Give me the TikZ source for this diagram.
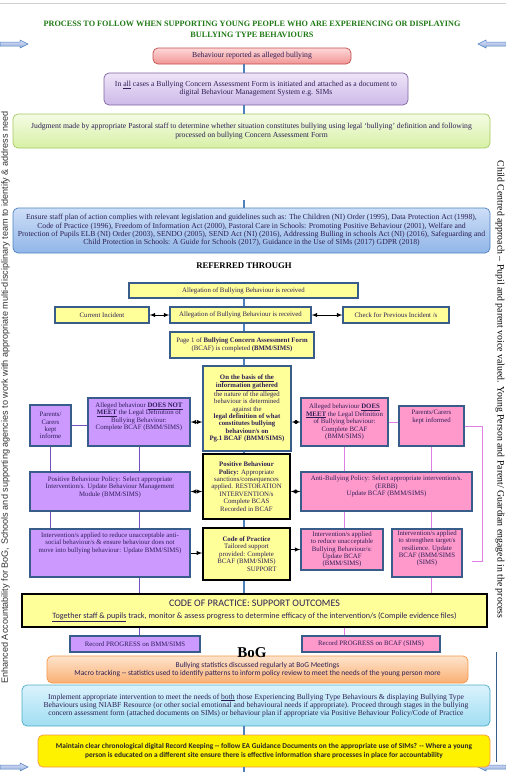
\documentclass[tikz,border=0pt]{standalone}
\usepackage{fontspec}
\setmainfont{Liberation Serif}
\newfontfamily\calib{Carlito}
\newfontfamily\arialish{Liberation Sans}
\usepackage{tikz}
\usetikzlibrary{arrows, positioning, shapes}

\definecolor{ink}{RGB}{45,30,85}
\definecolor{navy}{RGB}{56,93,138}
\definecolor{ylw}{RGB}{255,255,153}
\definecolor{lilac}{RGB}{204,153,255}
\definecolor{rose}{RGB}{255,153,204}
\definecolor{linkblue}{RGB}{79,129,189}
\definecolor{linkpurple}{RGB}{120,80,190}
\definecolor{linkpink}{RGB}{225,125,230}
\definecolor{titlegreen}{RGB}{30,120,20}

\begin{document}
\begin{tikzpicture}[x=1pt, y=-1pt,
    every node/.style={align=center, text=ink, inner sep=1pt},
    small/.style={font=\fontsize{6.8}{7.4}\selectfont},
    big/.style={font=\fontsize{7.7}{8.3}\selectfont},
    ybox/.style={small, draw=navy, line width=1.3pt, fill=ylw},
    kbox/.style={small, draw=black, line width=1.6pt, fill=ylw},
    pbox/.style={small, draw=navy, line width=1.3pt, fill=lilac},
    rbox/.style={small, draw=navy, line width=1.3pt, fill=rose},
    soft/.style={big, rounded corners=5pt, line width=0.7pt},
    vlink/.style={draw=linkblue, line width=1.2pt},
    plink/.style={draw=linkpurple, line width=0.6pt},
    klink/.style={draw=linkpink, line width=0.6pt},
    dlink/.style={latex-latex, black, line width=0.9pt},
    tlink/.style={-latex, black, line width=0.9pt},
    blockarrow/.style={draw=linkblue, line width=0.5pt, top color=blue!12, bottom color=linkblue!65},
]
\useasboundingbox (0,0) rectangle (506,772);
\coordinate (spine) at (244,0);

% header
\draw[gray!35, line width=0.6pt] (0,3) -- (506,3);
\node[font=\fontsize{8.2}{10.5}\selectfont\bfseries, text=titlegreen] (title) at (252,29.5)
    {PROCESS TO FOLLOW WHEN SUPPORTING YOUNG PEOPLE WHO ARE EXPERIENCING OR DISPLAYING\\
     BULLYING TYPE BEHAVIOURS};
\foreach \x/\y/\d in {0/44/1, 506/44/-1, 0/767/1, 506/767/-1}
  \path[blockarrow] (\x,\y-2) -- ++(20*\d,0) -- ++(0,-2) -- ++(8*\d,4) -- ++(-8*\d,4)
    -- ++(0,-2) -- ++(-20*\d,0) -- cycle;

% side texts
\node[rotate=90, font=\arialish\fontsize{9.1}{9.1}\selectfont, text=black!80] (account) at (5.5,397.5)
    {Enhanced Accountability for BoG, Schools and supporting agencies to work with appropriate multi-disciplinary team to identify \& address need};
\node[rotate=-90, font=\fontsize{9.8}{9.8}\selectfont, text=black] (childcentred) at (500,389.5)
    {Child Centred approach -- Pupil and parent voice valued. Young Person and Parent/ Guardian engaged in the process};
\draw[navy, line width=0.8pt] (496,652) -- (496,762);

% top of the process
\node[soft, draw={rgb,255:red,192;green,80;blue,77}, top color={rgb,255:red,255;green,215;blue,215},
    bottom color={rgb,255:red,240;green,150;blue,150}, minimum width=198, minimum height=16] (report) at (252,56)
    {Behaviour reported as alleged bullying};
\node[soft, draw={rgb,255:red,128;green,100;blue,162}, top color={rgb,255:red,238;green,228;blue,248},
    bottom color={rgb,255:red,205;green,185;blue,232}, minimum width=304, minimum height=32] (cases) at (256,89)
    {In \underline{all} cases a Bullying Concern Assessment Form is initiated and attached as a document to\\
     digital Behaviour Management System e.g. SIMs};
\node[soft, draw={rgb,255:red,165;green,200;blue,95}, top color={rgb,255:red,244;green,252;blue,228},
    bottom color={rgb,255:red,215;green,240;blue,165}, minimum width=477, minimum height=34] (judge) at (251.5,131)
    {Judgment made by appropriate Pastoral staff to determine whether situation constitutes bullying using legal  `bullying' definition and following\\
     processed on bullying Concern Assessment Form};
\node[soft, draw=linkblue, top color={rgb,255:red,205;green,222;blue,247},
    bottom color={rgb,255:red,145;green,182;blue,232}, minimum width=477, minimum height=45] (ensure) at (251.5,230.5)
    {Ensure  staff  plan of action complies with relevant legislation and guidelines such as: The Children (NI) Order (1995), Data Protection Act (1998),\\
     Code of Practice (1996), Freedom of Information Act (2000), Pastoral Care in Schools: Promoting Positive Behaviour (2001), Welfare and\\
     Protection of Pupils ELB (NI) Order (2003), SENDO (2005), SEND Act (NI) (2016), Addressing Bulling in schools Act (NI) (2016), Safeguarding and\\
     Child Protection in Schools: A Guide for Schools (2017), Guidance in the Use of SIMs (2017) GDPR (2018)};
\node[font=\fontsize{8.7}{9}\selectfont\bfseries, text=black] (refer) at (244,266) {REFERRED THROUGH};

% referral
\node[ybox, minimum width=229, minimum height=15] (allege) at (243.5,290.5) {Allegation of Bullying Behaviour is received};
\node[ybox, minimum width=94, minimum height=16] (current) at (102,315) {Current Incident};
\node[ybox, minimum width=141, minimum height=16] (alleged) at (240.5,315) {Allegation of Bullying Behaviour is received};
\node[ybox, minimum width=106, minimum height=16] (previous) at (396,315) {Check for Previous Incident /s};
\node[ybox, minimum width=144, minimum height=26] (pageone) at (242,345)
    {Page 1 of \textbf{Bullying Concern Assessment Form}\\ (BCAF) is completed \textbf{(BMM/SIMS)}};

% centre column
\node[ybox, minimum width=88, minimum height=85] (basis) at (247,408.5)
    {\textbf{\underline{On the basis of the}}\\ \textbf{\underline{information gathered}}\\ the nature of the alleged\\
     behaviour is determined\\ against the\\ \textbf{legal definition of what}\\ \textbf{constitutes bullying}\\
     \textbf{behaviour/s on}\\ \textbf{Pg.1 BCAF (BMM/SIMS)}};
\node[kbox, minimum width=87, minimum height=65] (posbeh) at (246.5,486.5)
    {\textbf{Positive Behaviour}\\ \textbf{Policy:} Appropriate\\ sanctions/consequences\\ applied.  RESTORATION\\
     INTERVENTION/s\\ Complete BCAS\\ Recorded in BCAF};
\node[kbox, minimum width=87, minimum height=52] (copnode) at (246.5,554)
    {\textbf{Code of Practice}\\ Tailored support\\ provided: Complete\\ BCAF (BMM/SIMS)\\ \hspace*{4.5em}SUPPORT};

% does not meet
\node[pbox, minimum width=41, minimum height=41] (parentsl) at (50.5,425.5) {Parents/\\ Carers\\ kept\\ informe};
\node[pbox, minimum width=102, minimum height=48] (notmeet) at (139,422)
    {Alleged behaviour \textbf{\underline{DOES NOT}}\\ \textbf{\underline{MEET}} the Legal Definition of\\
     Bullying Behaviour:\\ Complete BCAF (BMM/SIMS)\\[4pt]};
\node[pbox, minimum width=160, minimum height=39] (pbpolicy) at (110,491.5)
    {Positive Behaviour Policy: Select appropriate\\ Intervention/s.  Update Behaviour Management\\ Module (BMM/SIMS)\\[3pt]};
\node[pbox, minimum width=160, minimum height=48] (interl) at (110,553)
    {Intervention/s applied to reduce unacceptable anti-\\ social behaviour/s \& ensure behaviour does not\\
     move into bullying behaviour: Update BMM/SIMS)\\[14pt]};

% does meet
\node[rbox, minimum width=87, minimum height=48] (meets) at (344.5,422)
    {Alleged behaviour \textbf{\underline{DOES}}\\ \textbf{\underline{MEET}} the Legal Definition\\ of Bullying behaviour:\\
     Complete BCAF\\ (BMM/SIMS)};
\node[rbox, minimum width=65, minimum height=40] (parentsr) at (431.5,426) {Parents/Carers\\ kept informed\\[12pt]};
\node[rbox, minimum width=171, minimum height=39] (abpolicy) at (386.5,491.5)
    {Anti-Bullying Policy: Select appropriate intervention/s.\\ (ERBB)\\ Update BCAF (BMM/SIMS)\\[4pt]};
\node[rbox, minimum width=82, minimum height=41] (interr) at (342,549.5)
    {Intervention/s applied\\ to reduce unacceptable\\ Bullying Behaviour/s:\\ Update BCAF\\ (BMM/SIMS)};
\node[rbox, minimum width=70, minimum height=48] (resil) at (427,553)
    {Intervention/s applied\\ to strengthen target/s\\ resilience.  Update\\ BCAF (BMM/SIMS\\ (SIMS)\\[3pt]};

% outcomes
\node[draw=black, line width=1.6pt, fill=ylw, minimum width=465, minimum height=33] (outcomes) at (254.5,610.5)
    {{\calib\fontsize{10}{11}\selectfont CODE OF PRACTICE: SUPPORT OUTCOMES}\\
     {\calib\fontsize{8.1}{9}\selectfont \underline{Together staff \& pupils} track, monitor \& assess progress to determine efficacy of the intervention/s (Compile evidence files)}};
\node[pbox, minimum width=130, minimum height=16] (recl) at (135,644) {Record PROGRESS on BMM/SIMS};
\node[rbox, minimum width=138, minimum height=16] (recr) at (371,644) {Record PROGRESS on BCAF (SIMS)};
\node[soft, draw={rgb,255:red,247;green,150;blue,70}, top color={rgb,255:red,253;green,228;blue,205},
    bottom color={rgb,255:red,250;green,175;blue,115}, minimum width=421, minimum height=27,
    font=\calib\fontsize{7.5}{8.5}\selectfont] (stats) at (257.5,669.5)
    {Bullying statistics discussed regularly at BoG Meetings\\
     Macro tracking -- statistics used to identify patterns to inform policy review to meet the needs of the young person more};
\node[font=\fontsize{15}{15}\selectfont\bfseries, text=black] (bog) at (252,652.5) {BoG};
\node[soft, draw={rgb,255:red,75;green,172;blue,198}, top color={rgb,255:red,218;green,242;blue,252},
    bottom color={rgb,255:red,160;green,222;blue,242}, minimum width=468, minimum height=41,
    font=\fontsize{7.6}{8.3}\selectfont] (implement) at (256,705.5)
    {Implement appropriate intervention to meet the needs of \underline{both} those Experiencing Bullying Type Behaviours \& displaying Bullying Type\\
     Behaviours using NIABF Resource (or other social emotional and behavioural needs if appropriate).  Proceed through stages in the bullying\\
     concern assessment form (attached documents on SIMs) or behaviour plan if appropriate via Positive Behaviour Policy/Code of Practice};
\node[soft, draw={rgb,255:red,247;green,150;blue,70}, fill=yellow, minimum width=452, minimum height=32,
    font=\calib\bfseries\fontsize{7.4}{8.5}\selectfont, text=black!85] (records) at (264,751)
    {Maintain clear chronological digital Record Keeping -- follow EA Guidance Documents on the appropriate use of SIMs? -- Where a young\\
     person is educated on a different site ensure there is effective information share processes in place for accountability};

% blue spine
\coordinate (gap) at (244,200);
\coordinate (tail) at (244,772);
\draw[vlink] (report.south -| spine) -- (cases.north -| spine);
\draw[vlink] (cases.south -| spine) -- (judge.north -| spine);
\draw[vlink] (gap) -- (ensure.north -| gap);
\draw[vlink] (allege.south -| spine) -- (alleged.north -| spine);
\draw[vlink] (alleged.south -| spine) -- (pageone.north -| spine);
\draw[vlink] (pageone.south -| spine) -- (basis.north -| spine);
\draw[vlink] (basis.south -| spine) -- (posbeh.north -| spine);
\draw[vlink] (posbeh.south -| spine) -- (copnode.north -| spine);
\draw[vlink] (copnode.south -| spine) -- (outcomes.north -| spine);
\draw[vlink] (implement.south -| spine) -- (records.north -| spine);
\draw[vlink] (records.south -| spine) -- (tail);

% arrows
\draw[dlink] (current.east) -- (alleged.west);
\draw[dlink] (alleged.east) -- (previous.west);
\draw[dlink] (notmeet.east) -- (notmeet.east -| basis.west);
\draw[dlink] (basis.east |- meets.west) -- (meets.west);
\draw[dlink] (pbpolicy.east) -- (pbpolicy.east -| posbeh.west);
\draw[dlink] (posbeh.east |- abpolicy.west) -- (abpolicy.west);
\draw[tlink] (interl.east) -- (interl.east -| copnode.west);
\draw[tlink] (copnode.east |- interr.west) -- (interr.west);

% purple links
\draw[plink] (parentsl.east) -- (parentsl.east -| notmeet.west);
\draw[plink] (parentsl.south) -- (parentsl.south |- pbpolicy.north);
\draw[plink] (notmeet.south) -- (notmeet.south |- pbpolicy.north);
\draw[plink] (pbpolicy.south -| parentsl) -- (interl.north -| parentsl);
\draw[plink] (pbpolicy.south -| notmeet) -- (interl.north -| notmeet);
\draw[plink] (interl.south -| notmeet) -- (outcomes.north -| notmeet);
\draw[plink] (outcomes.south -| notmeet) -- (recl.north -| notmeet);

% pink links
\coordinate (edge) at (482,561);
\coordinate (loose) at (472,561);
\draw[klink] (meets.east) -- (meets.east -| parentsr.west);
\draw[klink] (parentsr.east) -- (parentsr.east -| edge) -- (edge) -- (loose);
\draw[klink] (meets.south) -- (meets.south |- abpolicy.north);
\draw[klink] (parentsr.south) -- (parentsr.south |- abpolicy.north);
\draw[klink] (abpolicy.south -| meets) -- (interr.north -| meets);
\draw[klink] (abpolicy.south -| parentsr) -- (resil.north -| parentsr);
\draw[klink] (resil.south -| parentsr) -- (outcomes.north -| parentsr);
\draw[klink] (outcomes.south -| meets) -- (recr.north -| meets);
\end{tikzpicture}
\end{document}
